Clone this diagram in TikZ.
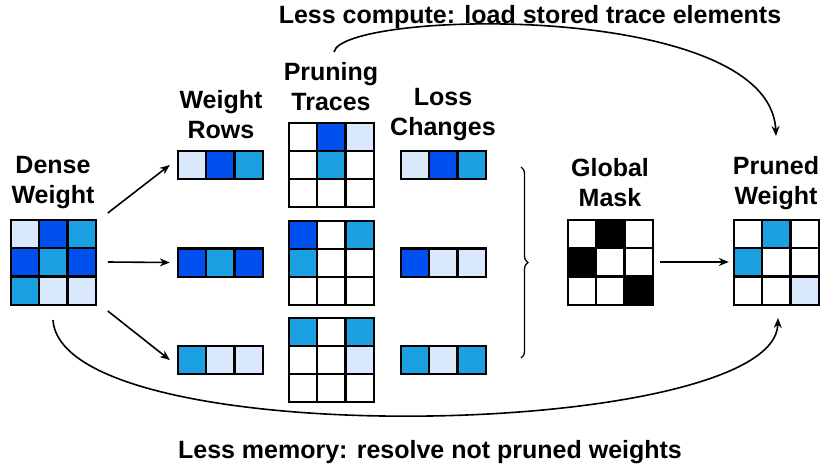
\documentclass[tikz,border=0pt]{standalone}
\usepackage{fontspec}
\setmainfont{Liberation Sans}
\usetikzlibrary{decorations.pathreplacing,arrows.meta}
\definecolor{L}{HTML}{DAE8FC}
\definecolor{D}{HTML}{0050EF}
\definecolor{M}{HTML}{1BA1E2}
\definecolor{W}{HTML}{FFFFFF}
\definecolor{B}{HTML}{000000}
% \mkrow{name}{xleft}{ycenter}{c1}{c2}{c3}
\newcommand{\mkrow}[6]{%
  \node[cell,fill=#4] (#1a) at (#2+14.1,#3) {};
  \node[cell,fill=#5] (#1b) at (#2+42.3,#3) {};
  \node[cell,fill=#6] (#1c) at (#2+70.5,#3) {};
  \node[box] (#1) at (#2+42.3,#3) {};}
\tikzset{
  x=1pt,y=-1pt,
  cell/.style={draw,line width=2.2pt,minimum size=28.2pt,inner sep=0pt},
  box/.style={minimum width=84.6pt,minimum height=28.2pt,inner sep=0pt},
  gbox/.style={minimum size=84.6pt,inner sep=0pt},
  ttl/.style={font=\fontsize{25}{30}\selectfont\bfseries,align=center},
  arr/.style={line width=1.6pt,-{Stealth[length=10pt,width=8pt]}},
}
\begin{document}
\begin{tikzpicture}
\useasboundingbox (0,0) rectangle (830,471);
% Dense weight
\mkrow{d1}{11}{234}{L}{D}{M}
\mkrow{d2}{11}{262}{D}{M}{D}
\mkrow{d3}{11}{291}{M}{L}{L}
\node[gbox] (dense) at (53.3,262) {};
\node[ttl] (tdense) at (53,183) {Dense\\Weight};
% Weight rows
\mkrow{r1}{178}{165}{L}{D}{M}
\mkrow{r2}{178}{262.5}{D}{M}{D}
\mkrow{r3}{178}{360}{M}{L}{L}
\node[ttl] (trows) at (221,115) {Weight\\Rows};
% Traces
\mkrow{ta1}{289}{137}{W}{D}{L}
\mkrow{ta2}{289}{165}{W}{M}{W}
\mkrow{ta3}{289}{193}{W}{W}{W}
\mkrow{tb1}{289}{235}{D}{W}{M}
\mkrow{tb2}{289}{263}{M}{W}{W}
\mkrow{tb3}{289}{291}{W}{W}{W}
\mkrow{tc1}{289}{332}{M}{W}{M}
\mkrow{tc2}{289}{360}{W}{W}{L}
\mkrow{tc3}{289}{388}{W}{W}{W}
\node[ttl] (ttr) at (331,87) {Pruning\\Traces};
% Loss changes
\mkrow{l1}{401}{165}{L}{D}{M}
\mkrow{l2}{401}{262.5}{D}{L}{L}
\mkrow{l3}{401}{360}{M}{L}{M}
\node[ttl] (tloss) at (443,115) {Loss\\Changes};
% Brace
\coordinate (bt) at (521,167);
\coordinate (bb) at (521,358);
\draw[line width=1.3pt,decorate,decoration={brace,amplitude=7pt}] (bt) -- (bb);
% Global mask
\mkrow{g1}{568}{234}{W}{B}{W}
\mkrow{g2}{568}{262}{B}{W}{W}
\mkrow{g3}{568}{291}{W}{W}{B}
\node[gbox] (mask) at (610.3,262) {};
\node[ttl] (tmask) at (610,183) {Global\\Mask};
% Pruned
\mkrow{p1}{734}{234}{W}{M}{W}
\mkrow{p2}{734}{262}{M}{W}{W}
\mkrow{p3}{734}{291}{W}{W}{L}
\node[gbox] (pruned) at (776.3,262) {};
\node[ttl] (tpruned) at (776,183) {Pruned\\Weight};
% arrows
\draw[arr] (dense.east) ++(12,-49) -- ([xshift=-8pt]r1.west);
\draw[arr] ([xshift=12pt]dense.east) -- ([xshift=-8pt]r2.west);
\draw[arr] (dense.east) ++(12,49) -- ([xshift=-8pt]r3.west);
\draw[arr] ([xshift=7pt]mask.east) -- ([xshift=-5pt]pruned.west);
\coordinate (ts) at (334,52);
\coordinate (te) at (776,136);
\draw[arr] (ts) .. controls (342,10) and (770,0) .. (te);
\coordinate (bs) at (53,320);
\coordinate (be) at (778,318);
\draw[arr] (bs) .. controls (62,455) and (775,440) .. (be);
\node[ttl] (lc) at (530,17) {Less compute: load stored trace elements};
\node[ttl] (lm) at (430,452) {Less memory: resolve not pruned weights};
\end{tikzpicture}
\end{document}
